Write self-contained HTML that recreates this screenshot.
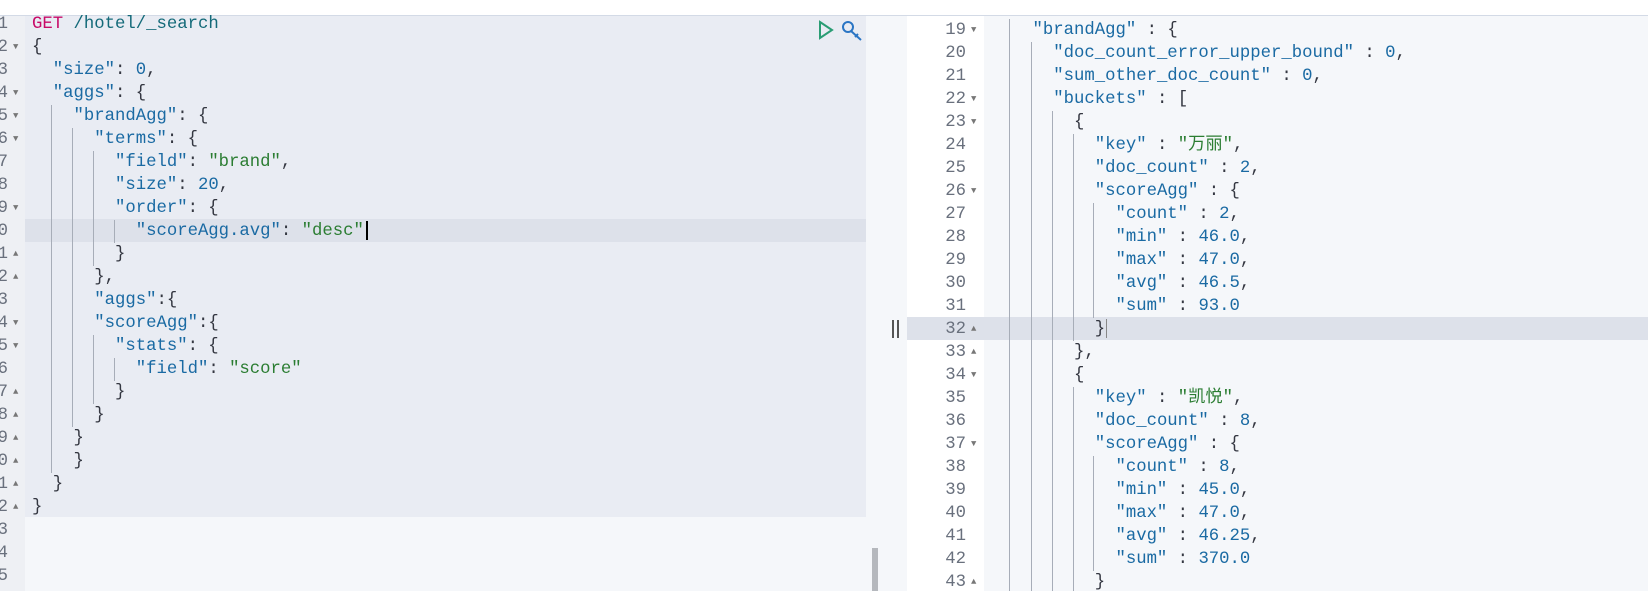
<!DOCTYPE html>
<html><head><meta charset="utf-8"><style>
html,body{margin:0;padding:0;overflow:hidden;height:591px}
body{width:1648px;height:591px;position:relative;overflow:hidden;background:#f5f7fa;font-family:"Liberation Mono","Noto Sans CJK SC",monospace;font-size:17.3px;}
.a{position:absolute}
.l{position:absolute;white-space:pre;line-height:23px;height:23px;color:#343741}
.k{color:#1a6aa3}.s{color:#2b7d32}.n{color:#1a6aa3}.g{color:#c80a68}.p{color:#146a79}
.num{position:absolute;white-space:pre;line-height:23px;color:#69707d;text-align:right}
.v{position:absolute;width:1px;background:#a7adb8}
.f{position:absolute;font-size:9px;color:#777;line-height:23px}
</style></head><body>
<div class="a" style="left:0;top:0;width:1648px;height:15px;background:#fff;border-bottom:1px solid #d3dae6"></div>
<div class="a" style="left:0;top:16px;width:25px;height:575px;background:#eef0f4"></div>
<div class="a" style="left:25px;top:16px;width:841px;height:501px;background:#e9ecf3"></div>
<div class="a" style="left:25px;top:219px;width:841px;height:23px;background:#dde1ea"></div>
<div class="a" style="left:866px;top:16px;width:41px;height:575px;background:#f5f7fa"></div>
<div class="a" style="left:872px;top:548px;width:6px;height:43px;background:#b5b8bd"></div>
<div class="a" style="left:892px;top:320px;width:2px;height:18px;background:#555"></div>
<div class="a" style="left:897px;top:320px;width:2px;height:18px;background:#555"></div>
<svg class="a" style="left:817px;top:20px" width="50" height="22"><path d="M3 2 L15 10 L3 18 Z" fill="none" stroke="#2a9d74" stroke-width="2"/><g fill="none" stroke="#2a75c4" stroke-width="2"><circle cx="31" cy="7" r="5"/><path d="M34 11 L44 20 M41 14 L38 17"/></g></svg>
<div id="left"></div>
<div class="a" style="left:907px;top:16px;width:77px;height:575px;background:#fff"></div>
<div class="a" style="left:907px;top:317px;width:741px;height:23px;background:#dde1ea"></div>
<div id="right"></div>
<script>
(function(){
function esc(t){return t.replace(/&/g,'&amp;').replace(/</g,'&lt;')}
function hl(t){
  return esc(t).replace(/("(?:[^"]*)")(\s*:)|("(?:[^"]*)")|(\b\d+(?:\.\d+)?\b)/g,function(m,a,b,c,d){
    if(a)return '<span class="k">'+a+'</span>'+b;
    if(c)return '<span class="s">'+c+'</span>';
    return '<span class="n">'+d+'</span>';});
}
var L=['<span class="g">GET</span> <span class="p">/hotel/_search</span>','{','  "size": 0,','  "aggs": {','    "brandAgg": {','      "terms": {','        "field": "brand",','        "size": 20,','        "order": {','          "scoreAgg.avg": "desc"','        }','      },','      "aggs":{','      "scoreAgg":{','        "stats": {','          "field": "score"','        }','      }','    }','    }','  }','}','','',''];
var fold={2:'▼',4:'▼',5:'▼',6:'▼',9:'▼',11:'▲',12:'▲',14:'▼',15:'▼',17:'▲',18:'▲',19:'▲',20:'▲',21:'▲',22:'▲'};
var h='';
for(var i=0;i<L.length;i++){var n=i+1,ty=13+23*i;
 h+='<div class="l" style="left:32px;top:'+ty+'px">'+(i==0?L[i]:hl(L[i]))+'</div>';
 h+='<div class="num" style="left:-20px;width:28px;top:'+ty+'px">'+n+'</div>';
 if(fold[n])h+='<div class="f" style="left:13px;top:'+ty+'px">'+fold[n]+'</div>';}
function g(x,a,b,t0,base){return '<div class="v" style="left:'+x+'px;top:'+(t0+23*(a-base))+'px;height:'+(23*(b-a+1))+'px"></div>'}
h+=g(51,5,20,13,1)+g(72,6,18,13,1)+g(93,7,11,13,1)+g(93,15,17,13,1)+g(114,10,10,13,1)+g(114,16,16,13,1);
h+='<div class="a" style="left:366px;top:221px;width:2px;height:19px;background:#000"></div>';
document.getElementById('left').innerHTML=h;
var R=['    "brandAgg" : {','      "doc_count_error_upper_bound" : 0,','      "sum_other_doc_count" : 0,','      "buckets" : [','        {','          "key" : "万丽",','          "doc_count" : 2,','          "scoreAgg" : {','            "count" : 2,','            "min" : 46.0,','            "max" : 47.0,','            "avg" : 46.5,','            "sum" : 93.0','          }','        },','        {','          "key" : "凯悦",','          "doc_count" : 8,','          "scoreAgg" : {','            "count" : 8,','            "min" : 45.0,','            "max" : 47.0,','            "avg" : 46.25,','            "sum" : 370.0','          }'];
var rf={19:'▼',22:'▼',23:'▼',26:'▼',32:'▲',33:'▲',34:'▼',37:'▼',43:'▲'};
h='';
for(var i=0;i<R.length;i++){var n=19+i,ty=19+23*i;
 h+='<div class="l" style="left:991px;top:'+ty+'px">'+hl(R[i])+'</div>';
 h+='<div class="num" style="left:930px;width:36px;top:'+ty+'px">'+n+'</div>';
 if(rf[n])h+='<div class="f" style="left:971px;top:'+ty+'px">'+rf[n]+'</div>';}
var t=19;
h+=g(1009,19,43,t,19)+g(1031,20,43,t,19)+g(1052,23,43,t,19)+g(1073,24,32,t,19)+g(1073,35,43,t,19)+g(1093,27,31,t,19)+g(1093,38,42,t,19);
h+='<div class="a" style="left:1106px;top:319px;width:1px;height:19px;background:#888"></div>';
document.getElementById('right').innerHTML=h;
})();
</script>
</body></html>
